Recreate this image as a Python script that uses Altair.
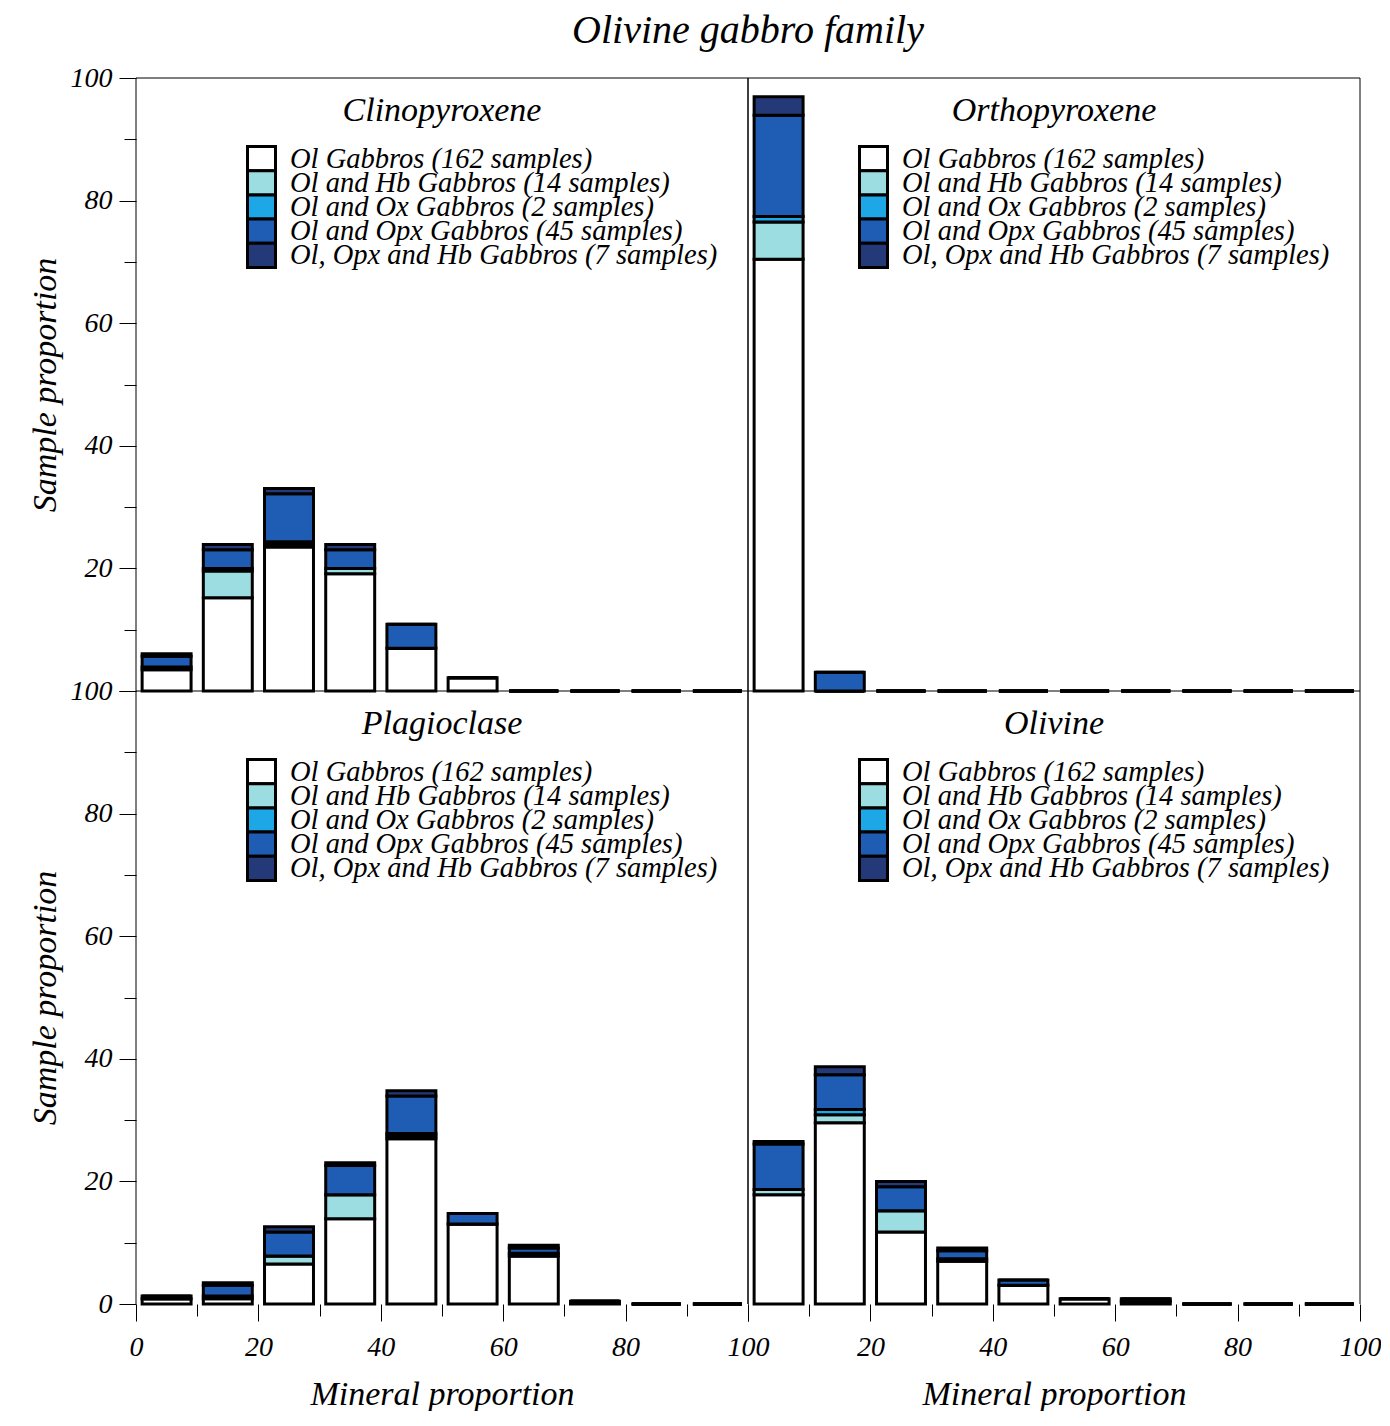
import altair as alt
import pandas as pd

FONT = "Liberation Serif"

minerals = ["Clinopyroxene", "Orthopyroxene", "Plagioclase", "Olivine"]
groups = [
    "Ol Gabbros (162 samples)",
    "Ol and Hb Gabbros (14 samples)",
    "Ol and Ox Gabbros (2 samples)",
    "Ol and Opx Gabbros (45 samples)",
    "Ol, Opx and Hb Gabbros (7 samples)",
]
colors = ["#ffffff", "#9cdde2", "#1da7e6", "#1f5db4", "#243a78"]
bin_starts = [0, 10, 20, 30, 40, 50, 60, 70, 80, 90]

# sample counts per 10 % bin
cpx_ol = [8, 35, 54, 44, 16, 5, 0, 0, 0, 0]
cpx_hb = [1, 10, 1, 2, 0, 0, 0, 0, 0, 0]
cpx_ox = [0, 1, 1, 0, 0, 0, 0, 0, 0, 0]
cpx_opx = [4, 7, 18, 7, 9, 0, 0, 0, 0, 0]
cpx_opxhb = [1, 2, 2, 2, 0, 0, 0, 0, 0, 0]

opx_ol = [162, 0, 0, 0, 0, 0, 0, 0, 0, 0]
opx_hb = [14, 0, 0, 0, 0, 0, 0, 0, 0, 0]
opx_ox = [2, 0, 0, 0, 0, 0, 0, 0, 0, 0]
opx_opx = [38, 7, 0, 0, 0, 0, 0, 0, 0, 0]
opx_opxhb = [7, 0, 0, 0, 0, 0, 0, 0, 0, 0]

pl_ol = [2, 2, 15, 32, 62, 30, 18, 1, 0, 0]
pl_hb = [0, 1, 3, 9, 1, 0, 0, 0, 0, 0]
pl_ox = [0, 0, 0, 0, 1, 0, 1, 0, 0, 0]
pl_opx = [1, 4, 9, 11, 14, 4, 2, 0, 0, 0]
pl_opxhb = [0, 1, 2, 1, 2, 0, 1, 0, 0, 0]

ol_ol = [41, 68, 27, 16, 7, 2, 1, 0, 0, 0]
ol_hb = [2, 3, 8, 1, 0, 0, 0, 0, 0, 0]
ol_ox = [0, 2, 0, 0, 0, 0, 0, 0, 0, 0]
ol_opx = [17, 13, 9, 3, 2, 0, 1, 0, 0, 0]
ol_opxhb = [1, 3, 2, 1, 0, 0, 0, 0, 0, 0]

counts = {
    "Clinopyroxene": [cpx_ol, cpx_hb, cpx_ox, cpx_opx, cpx_opxhb],
    "Orthopyroxene": [opx_ol, opx_hb, opx_ox, opx_opx, opx_opxhb],
    "Plagioclase": [pl_ol, pl_hb, pl_ox, pl_opx, pl_opxhb],
    "Olivine": [ol_ol, ol_hb, ol_ox, ol_opx, ol_opxhb],
}

main_title = "Olivine gabbro family"

rows = []
for m, series in counts.items():
    for gi, (g, vals) in enumerate(zip(groups, series)):
        for b, c in zip(bin_starts, vals):
            rows.append({"mineral": m, "group": g, "gi": gi, "bin": b, "count": c})
df = pd.DataFrame(rows)
legend_df = pd.DataFrame({"group": groups})
one_df = pd.DataFrame({"k": [0]})

W, H = 612, 613
tick_cond = {"condition": {"test": "datum.value % 20 === 0", "value": 17}, "value": 12}
ticks = list(range(0, 101, 10))
color_scale = alt.Scale(domain=groups, range=colors)

# legend box geometry inside each panel (pixels from the plot's top-left corner)
LEG_TOP, LEG_ROW = 68.5, 24.2
leg_scale = alt.Scale(type="band", domain=groups, range=[LEG_TOP, LEG_TOP + 5 * LEG_ROW],
                      paddingInner=0, paddingOuter=0)


def make_axis(title, hide_zero, is_x):
    expr = "datum.value % 20 === 0 ? datum.label : ''"
    if hide_zero:
        expr = "datum.value % 20 === 0 && datum.value > 0 ? datum.label : ''"
    return alt.Axis(
        values=ticks, labelExpr=expr, tickSize=tick_cond, title=title,
        grid=False, domain=False, tickColor="black", tickWidth=1,
        labelFont=FONT, labelFontStyle="italic", labelFontSize=28, labelColor="black",
        labelPadding=12 if is_x else 7, labelFlush=False, labelOverlap=False,
        labelAlign="center" if is_x else "right",
        titleFont=FONT, titleFontStyle="italic", titleFontWeight="normal",
        titleFontSize=34, titleColor="black", titlePadding=16 if is_x else 8,
    )


def frame_rule(**enc):
    return alt.Chart(one_df).mark_rule(color="black", strokeWidth=1).encode(**enc)


def panel(m, left, bottom, hide_y0, hide_x0, with_title=False):
    base = (
        alt.Chart(df)
        .transform_filter(alt.datum.mineral == m)
        .transform_joinaggregate(total="sum(count)")
        .transform_calculate(pct="datum.count / datum.total * 100",
                             lo="datum.bin + 1", hi="datum.bin + 9")
        .transform_stack(stack="pct", groupby=["bin"], as_=["y0", "y1"],
                         sort=[alt.SortField("gi", order="ascending")])
    )
    xaxis = make_axis("Mineral proportion", hide_x0, True) if bottom else None
    yaxis = make_axis("Sample proportion", hide_y0, False) if left else None
    bars = base.mark_bar(stroke="black", strokeWidth=3, orient="vertical").encode(
        x=alt.X("lo:Q", scale=alt.Scale(domain=[0, 100], nice=False, zero=False, padding=0),
                axis=xaxis),
        x2="hi:Q",
        y=alt.Y("y0:Q", scale=alt.Scale(domain=[0, 100], nice=False, padding=0), axis=yaxis),
        y2="y1:Q",
        color=alt.Color("group:N", scale=color_scale, legend=None),
    )
    leg_box = alt.Chart(legend_df).mark_rect(stroke="black", strokeWidth=3).encode(
        x=alt.value(111.5), x2=alt.value(139.5),
        y=alt.Y("group:N", scale=leg_scale, axis=None, sort=groups),
        color=alt.Color("group:N", scale=color_scale, legend=None),
    )
    leg_text = alt.Chart(legend_df).mark_text(
        font=FONT, fontStyle="italic", fontSize=28.5, color="black", align="left",
        baseline="middle",
    ).encode(
        x=alt.value(154),
        y=alt.Y("group:N", scale=leg_scale, axis=None, sort=groups),
        text="group:N",
    )
    label = alt.Chart(pd.DataFrame({"t": [m]})).mark_text(
        font=FONT, fontStyle="italic", fontSize=34, color="black", baseline="middle",
        align="center",
    ).encode(text="t:N", x=alt.value(W / 2), y=alt.value(33))
    frames = [
        frame_rule(x=alt.value(0), y=alt.value(0), y2=alt.value(H)),
        frame_rule(x=alt.value(W), y=alt.value(0), y2=alt.value(H)),
        frame_rule(x=alt.value(0), x2=alt.value(W), y=alt.value(0)),
    ]
    layers = [bars, leg_box, leg_text, label] + frames
    if with_title:
        ttl = alt.Chart(pd.DataFrame({"t": [main_title]})).mark_text(
            font=FONT, fontStyle="italic", fontSize=40, color="black", baseline="middle",
            align="center",
        ).encode(text="t:N", x=alt.value(W), y=alt.value(-47))
        layers.append(ttl)
    return alt.layer(*layers).resolve_scale(y="independent").properties(width=W, height=H)


p1 = panel("Clinopyroxene", True, False, True, False, with_title=True)
p2 = panel("Orthopyroxene", False, False, False, False)
p3 = panel("Plagioclase", True, True, False, False)
p4 = panel("Olivine", False, True, False, True)

chart = (
    alt.ConcatChart(concat=[p1, p2, p3, p4], columns=2, spacing=0, bounds="flush")
    .properties(padding={"left": 20, "top": 3, "right": 0, "bottom": 0})
    .configure_view(strokeWidth=0)
)

chart.save("out.html", embed_options={"renderer": "svg", "actions": False})
